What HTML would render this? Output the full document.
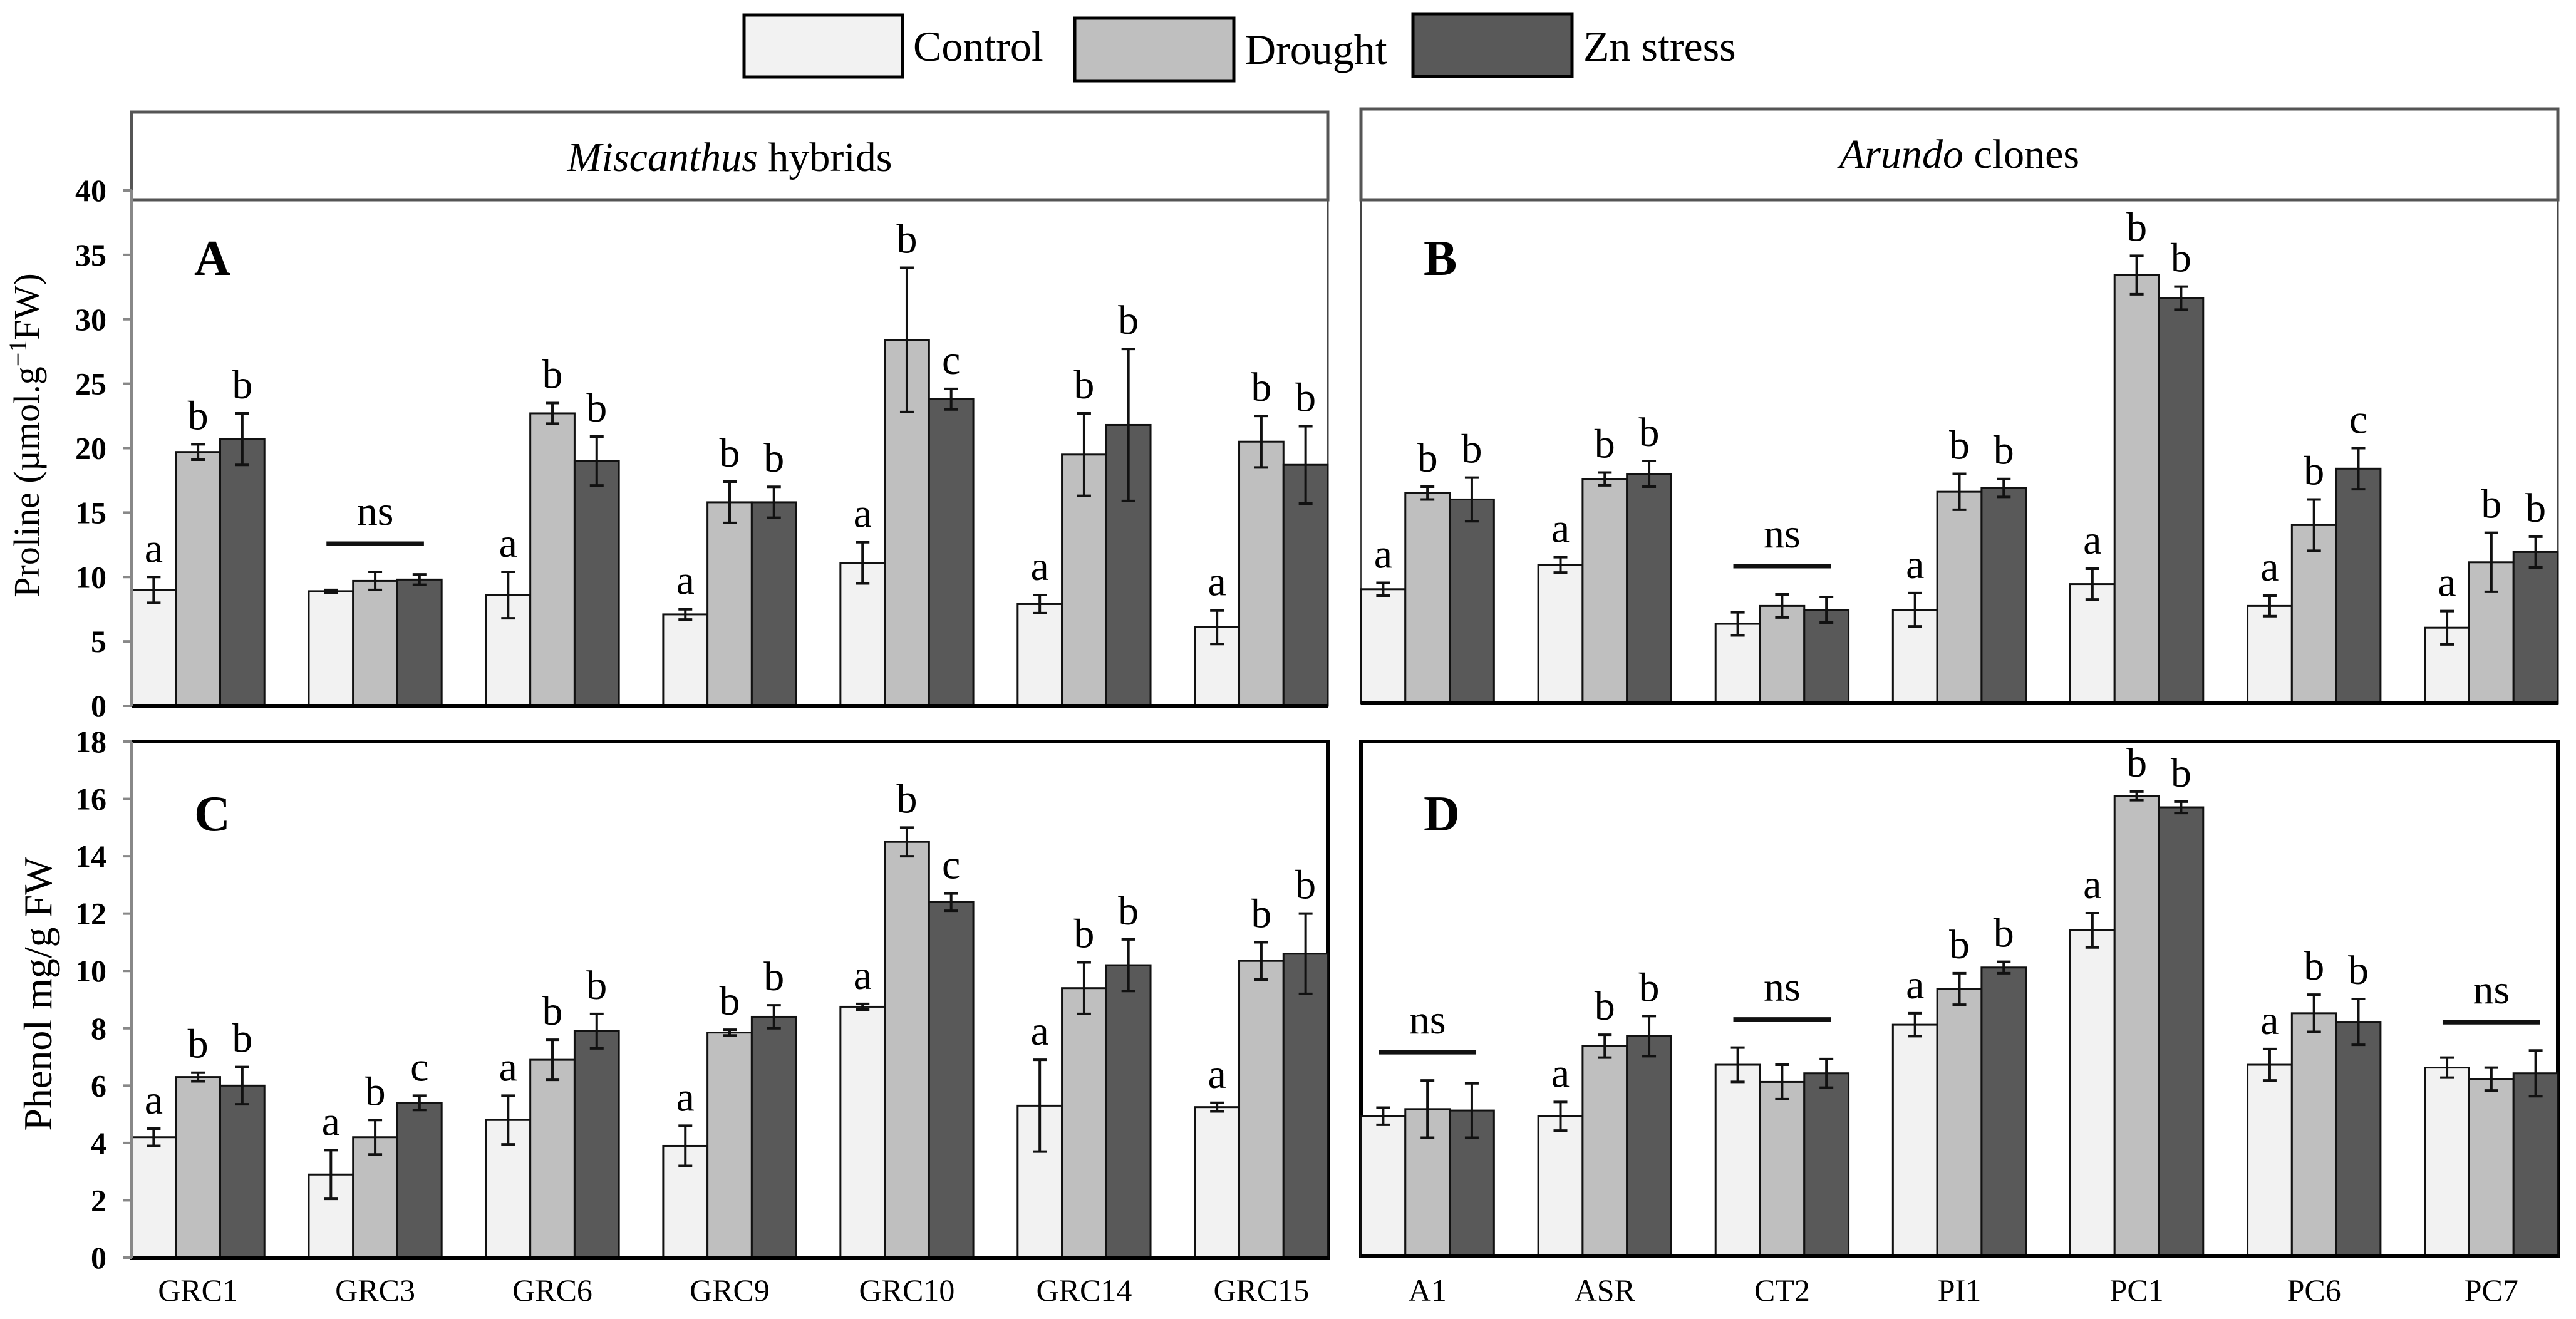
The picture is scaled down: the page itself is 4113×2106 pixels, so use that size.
<!DOCTYPE html>
<html><head><meta charset="utf-8">
<style>
html,body{margin:0;padding:0;background:#fff;}
svg{display:block;}
svg text, svg tspan{font-family:"Liberation Serif","DejaVu Serif",serif !important;}
</style></head>
<body>
<svg id="fig" width="4113" height="2106" viewBox="0 0 4113 2106" xmlns="http://www.w3.org/2000/svg" font-family="Liberation Serif, serif">
  <g>
    <rect x="1188" y="24" width="253" height="99" fill="#f2f2f2" stroke="#000" stroke-width="5"/>
    <text x="1458" y="97" font-size="68" font-family="Liberation Serif, serif">Control</text>
    <rect x="1716" y="29" width="254" height="100" fill="#bfbfbf" stroke="#000" stroke-width="5"/>
    <text x="1988" y="102" font-size="68" font-family="Liberation Serif, serif">Drought</text>
    <rect x="2256" y="22" width="254" height="100" fill="#595959" stroke="#000" stroke-width="5"/>
    <text x="2528" y="97" font-size="68" font-family="Liberation Serif, serif">Zn stress</text>
  </g>
  <g id="panels"></g>
</svg>
<script>
const catsM = ["GRC1","GRC3","GRC6","GRC9","GRC10","GRC14","GRC15"];
const catsA = ["A1","ASR","CT2","PI1","PC1","PC6","PC7"];
const series = ["control","drought","zn-stress"];
// Proline - Miscanthus (A)
const proM_ctrl = [9.0,8.9,8.6,7.1,11.1,7.9,6.1];
const proM_ctrl_err = [1.0,0.1,1.8,0.4,1.6,0.7,1.3];
const proM_dro = [19.7,9.7,22.7,15.8,28.4,19.5,20.5];
const proM_dro_err = [0.6,0.7,0.8,1.6,5.6,3.2,2.0];
const proM_zn = [20.7,9.8,19.0,15.8,23.8,21.8,18.7];
const proM_zn_err = [2.0,0.4,1.9,1.2,0.8,5.9,3.0];
const proM_sig = [["a","b","b"],"ns",["a","b","b"],["a","b","b"],["a","b","c"],["a","b","b"],["a","b","b"]];
// Proline - Arundo (B)
const proA_ctrl = [8.9,10.8,6.2,7.3,9.3,7.6,5.9];
const proA_ctrl_err = [0.5,0.6,0.9,1.3,1.2,0.8,1.3];
const proA_dro = [16.4,17.5,7.6,16.5,33.4,13.9,11.0];
const proA_dro_err = [0.5,0.5,0.9,1.4,1.5,2.0,2.3];
const proA_zn = [15.9,17.9,7.3,16.8,31.6,18.3,11.8];
const proA_zn_err = [1.7,1.0,1.0,0.7,0.9,1.6,1.2];
const proA_sig = [["a","b","b"],["a","b","b"],"ns",["a","b","b"],["a","b","b"],["a","b","c"],["a","b","b"]];
// Phenol - Miscanthus (C)
const phM_ctrl = [4.2,2.9,4.8,3.9,8.75,5.3,5.25];
const phM_ctrl_err = [0.3,0.85,0.85,0.7,0.1,1.6,0.15];
const phM_dro = [6.3,4.2,6.9,7.85,14.5,9.4,10.35];
const phM_dro_err = [0.15,0.6,0.7,0.1,0.5,0.9,0.65];
const phM_zn = [6.0,5.4,7.9,8.4,12.4,10.2,10.6];
const phM_zn_err = [0.65,0.25,0.6,0.4,0.3,0.9,1.4];
const phM_sig = [["a","b","b"],["a","b","c"],["a","b","b"],["a","b","b"],["a","b","c"],["a","b","b"],["a","b","b"]];
// Phenol - Arundo (D)
const phA_ctrl = [4.9,4.9,6.7,8.1,11.4,6.7,6.6];
const phA_ctrl_err = [0.3,0.5,0.6,0.4,0.6,0.55,0.35];
const phA_dro = [5.15,7.35,6.1,9.35,16.1,8.5,6.2];
const phA_dro_err = [1.0,0.4,0.6,0.55,0.15,0.65,0.4];
const phA_zn = [5.1,7.7,6.4,10.1,15.7,8.2,6.4];
const phA_zn_err = [0.95,0.7,0.5,0.2,0.2,0.8,0.8];
const phA_sig = ["ns",["a","b","b"],"ns",["a","b","b"],["a","b","b"],["a","b","b"],"ns"];
const proTicks = [0,5,10,15,20,25,30,35,40];
const phTicks = [0,2,4,6,8,10,12,14,16,18];

const NS = "http://www.w3.org/2000/svg";
const root = document.getElementById("panels");
const fills = ["#f2f2f2","#bfbfbf","#595959"];
const FF = "Liberation Serif, serif";
function mk(tag, attrs, parent){
  const e = document.createElementNS(NS, tag);
  for (const k in attrs) e.setAttribute(k, attrs[k]);
  if (tag === "text") e.setAttribute("font-family", FF);
  (parent||root).appendChild(e);
  return e;
}
function panel(o){
  const g = mk("g", {});
  
  
  const bw = (o.x1 - o.x0) / 27;
  const y = v => o.y0 - (v / o.vmax) * (o.y0 - o.ytop);
  const vals = [o.c, o.d, o.z], errs = [o.ce, o.de, o.ze];
  const fr = mk("rect", {x:o.x0, y:o.boxTop, width:o.x1-o.x0, height:o.y0-o.boxTop, fill:"none", stroke:o.boxStroke, "stroke-width":o.boxW}, g);
  
  
  if (o.header){
    const h = mk("rect", {x:o.x0, y:o.hTop, width:o.x1-o.x0, height:o.boxTop-o.hTop, fill:"none", stroke:"#555", "stroke-width":5}, g);
    
    
    const t = mk("text", {x:(o.x0+o.x1)/2, y:o.hTop+94, "font-size":66, "text-anchor":"middle"}, g);
    
    
    const it = mk("tspan", {"font-style":"italic"}, t); it.textContent = o.header[0];
    const rt = mk("tspan", {}, t); rt.textContent = " " + o.header[1];
  }
  for (let i=0;i<o.cats.length;i++){
    const gx = o.x0 + i*4*bw;
    let maxTop = 0;
    for (let s=0;s<3;s++){
      const bx = gx + s*bw, v = vals[s][i], e = errs[s][i];
      const r = mk("rect", {x:bx, y:y(v), width:bw, height:o.y0-y(v), fill:fills[s], stroke:"#111", "stroke-width":3}, g);
      
      
      const cx = bx + bw/2, t = y(v+e), b = y(v-e);
      const eb = mk("path", {d:`M${cx} ${t}V${b}M${cx-11} ${t}H${cx+11}M${cx-11} ${b}H${cx+11}`, stroke:"#111", "stroke-width":4, fill:"none"}, g);
      
      
      maxTop = Math.max(maxTop, v+e);
      if (o.sig[i] !== "ns"){
        const lt = mk("text", {x:cx, y:t-24, "font-size":66, "text-anchor":"middle"}, g);
        
        
        lt.textContent = o.sig[i][s];
      }
    }
    if (o.sig[i] === "ns"){
      const ly = y(maxTop) - 45;
      const ln = mk("line", {x1:gx+0.4*bw, x2:gx+2.6*bw, y1:ly, y2:ly, stroke:"#111", "stroke-width":7}, g);
      
      
      const nt = mk("text", {x:gx+1.5*bw, y:ly-30, "font-size":66, "text-anchor":"middle"}, g);
      
      
      nt.textContent = "ns";
    }
    if (o.xlabels){
      const xl = mk("text", {x:gx+1.5*bw, y:2077, "font-size":50, "text-anchor":"middle"}, g);
      
      
      xl.textContent = o.cats[i];
    }
  }
  const bl = mk("line", {x1:o.x0, x2:o.x1, y1:o.y0, y2:o.y0, stroke:"#000", "stroke-width":6}, g);
  
  
  if (o.ticks){
    const ax = mk("line", {x1:o.x0, x2:o.x0, y1:y(o.vmax), y2:o.y0, stroke:"#888", "stroke-width":5}, g);
    
    
    for (const tv of o.ticks){
      const tk = mk("line", {x1:o.x0-14, x2:o.x0, y1:y(tv), y2:y(tv), stroke:"#888", "stroke-width":4}, g);
      
      
      const tl = mk("text", {x:o.x0-40, y:y(tv)+17, "font-size":50, "font-weight":"bold", "text-anchor":"end"}, g);
      
      
      tl.textContent = tv;
    }
  }
  const pl = mk("text", {x:o.x0+100, y:o.ytop+o.letterDy, "font-size":80, "font-weight":"bold"}, g);
  
  
  pl.textContent = o.letter;
}
panel({name:"panel-a-proline-miscanthus", letter:"A", x0:210, x1:2120, ytop:304, y0:1127, vmax:40, boxTop:319, hTop:179, boxStroke:"#444", boxW:3,
  header:["Miscanthus","hybrids"], cats:catsM, c:proM_ctrl, ce:proM_ctrl_err, d:proM_dro, de:proM_dro_err, z:proM_zn, ze:proM_zn_err, sig:proM_sig, ticks:proTicks, letterDy:135});
panel({name:"panel-b-proline-arundo", letter:"B", x0:2173, x1:4084, ytop:304, y0:1123, vmax:40, boxTop:319, hTop:174, boxStroke:"#444", boxW:3,
  header:["Arundo","clones"], cats:catsA, c:proA_ctrl, ce:proA_ctrl_err, d:proA_dro, de:proA_dro_err, z:proA_zn, ze:proA_zn_err, sig:proA_sig, ticks:null, letterDy:135});
panel({name:"panel-c-phenol-miscanthus", letter:"C", x0:210, x1:2120, ytop:1184, y0:2008, vmax:18, boxTop:1184, boxStroke:"#000", boxW:6,
  cats:catsM, c:phM_ctrl, ce:phM_ctrl_err, d:phM_dro, de:phM_dro_err, z:phM_zn, ze:phM_zn_err, sig:phM_sig, ticks:phTicks, xlabels:true, letterDy:142});
panel({name:"panel-d-phenol-arundo", letter:"D", x0:2173, x1:4084, ytop:1184, y0:2006, vmax:18, boxTop:1184, boxStroke:"#000", boxW:6,
  cats:catsA, c:phA_ctrl, ce:phA_ctrl_err, d:phA_dro, de:phA_dro_err, z:phA_zn, ze:phA_zn_err, sig:phA_sig, ticks:null, xlabels:true, letterDy:142});
const t1 = mk("text", {x:0, y:0, "font-size":58, "text-anchor":"middle", transform:"translate(62,695) rotate(-90)"});


t1.innerHTML = 'Proline (µmol.g<tspan dy="-20" font-size="40">−1</tspan><tspan dy="20">FW)</tspan>';
const t2 = mk("text", {x:0, y:0, "font-size":64, "text-anchor":"middle", transform:"translate(82,1587) rotate(-90)"});


t2.textContent = "Phenol mg/g FW";
</script>
</body></html>
